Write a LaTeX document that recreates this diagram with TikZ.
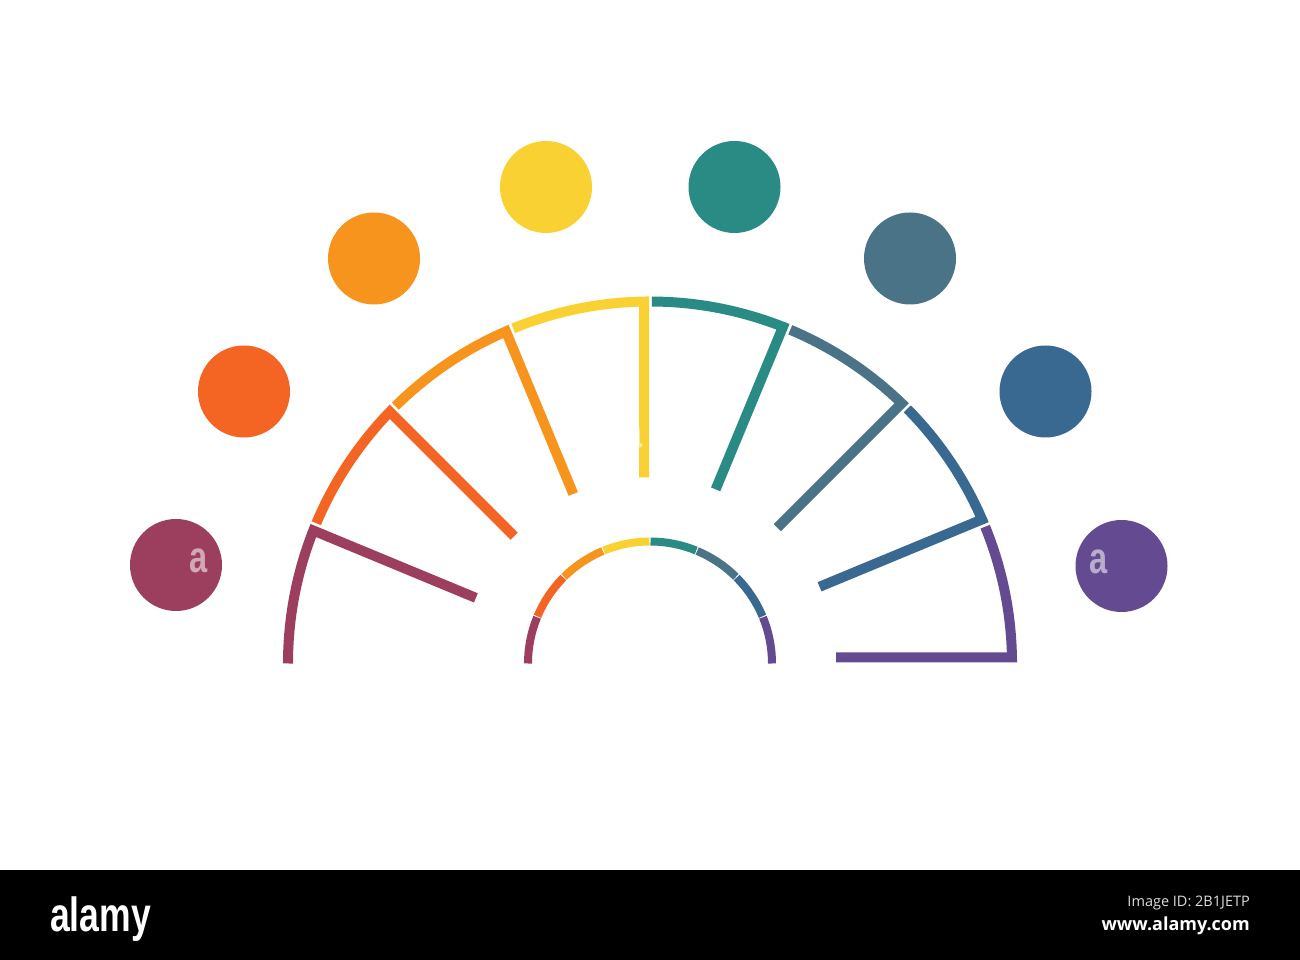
\documentclass[tikz,border=0pt]{standalone}
\usepackage{fontspec}
\setmainfont{Liberation Sans}
\newfontfamily\logofont[FakeStretch=0.74]{Liberation Sans}
\newfontfamily\idfont{Open Sans}
\usetikzlibrary{calc}
\definecolor{c1}{HTML}{9C3F5F}
\definecolor{c2}{HTML}{F46523}
\definecolor{c3}{HTML}{F7941E}
\definecolor{c4}{HTML}{F9D133}
\definecolor{c5}{HTML}{2A8A84}
\definecolor{c6}{HTML}{4A7388}
\definecolor{c7}{HTML}{396890}
\definecolor{c8}{HTML}{634A91}
\definecolor{idgray}{HTML}{DDDDDD}
\tikzset{
  outerseg/.style={line width=10pt, line cap=butt, line join=miter},
  innerseg/.style={line width=8pt, line cap=butt},
  dot/.style={circle, minimum size=92pt, inner sep=0pt, draw=none},
  wm/.style={inner sep=0pt, anchor=base, text=white, text opacity=0.55,
    font=\logofont\bfseries\fontsize{44}{44}\selectfont},
}
\begin{document}
\begin{tikzpicture}[x=1pt,y=1pt]
\useasboundingbox (0,0) rectangle (1300,960);
\fill[white] (0,0) rectangle (1300,960);
\coordinate (C) at (650,296.5);
\def\Rout{362}
\def\doff{6}
\def\rin{122}
\foreach \k/\col in {0/c1,1/c2,2/c3,3/c4,4/c5,5/c6,6/c7,7/c8}{
  \pgfmathsetmacro\ts{180-22.5*\k}
  \pgfmathsetmacro\te{\ts-22.5}
  \pgfmathsetmacro\tsa{\k==0 ? 180 : \ts-0.3}
  \pgfmathsetmacro\tcor{\te+asin(\doff/\Rout)}
  \draw[outerseg, draw=\col] ([shift={(\tsa:\Rout)}]C)
     arc[start angle=\tsa, end angle=\tcor, radius=\Rout]
     -- ($(C)+(\te:186)+(\te+90:\doff)$);
  \pgfmathsetmacro\isa{\k==0 ? 180 : \ts-0.25}
  \pgfmathsetmacro\iea{\k==7 ? 0 : \te+0.25}
  \draw[innerseg, draw=\col] ([shift={(\isa:\rin)}]C)
     arc[start angle=\isa, end angle=\iea, radius=\rin];
}
\node[dot, fill=c1] (d1) at (176,395) {};
\node[dot, fill=c2] (d2) at (244,568.5) {};
\node[dot, fill=c3] (d3) at (374,701.5) {};
\node[dot, fill=c4] (d4) at (546,773) {};
\node[dot, fill=c5] (d5) at (734.5,773) {};
\node[dot, fill=c6] (d6) at (910,701.5) {};
\node[dot, fill=c7] (d7) at (1045.5,568.5) {};
\node[dot, fill=c8] (d8) at (1121.5,394) {};
% watermark remnants
\node[wm] (wa1) at (199,387) {a};
\node[wm] (wa2) at (1099,386) {a};
\begin{scope}
  \clip (636.5,480) rectangle (647.5,560);
  \node[wm] (wa3) at (634,512) {a};
\end{scope}
% bottom bar
\fill[black] (0,0) rectangle (1300,90);
\node[inner sep=0pt, anchor=base west, text=white,
  font=\logofont\bfseries\fontsize{48}{48}\selectfont] (logo) at (50,28) {alamy};
\node[inner sep=0pt, anchor=base east, text=idgray,
  font=\idfont\fontsize{14.5}{14.5}\selectfont] (imgid) at (1250,53.3) {Image ID: 2B1JETP};
\node[inner sep=0pt, anchor=base east, text=white,
  font=\idfont\bfseries\fontsize{18}{18}\selectfont] (url) at (1250,29) {www.alamy.com};
\end{tikzpicture}
\end{document}
